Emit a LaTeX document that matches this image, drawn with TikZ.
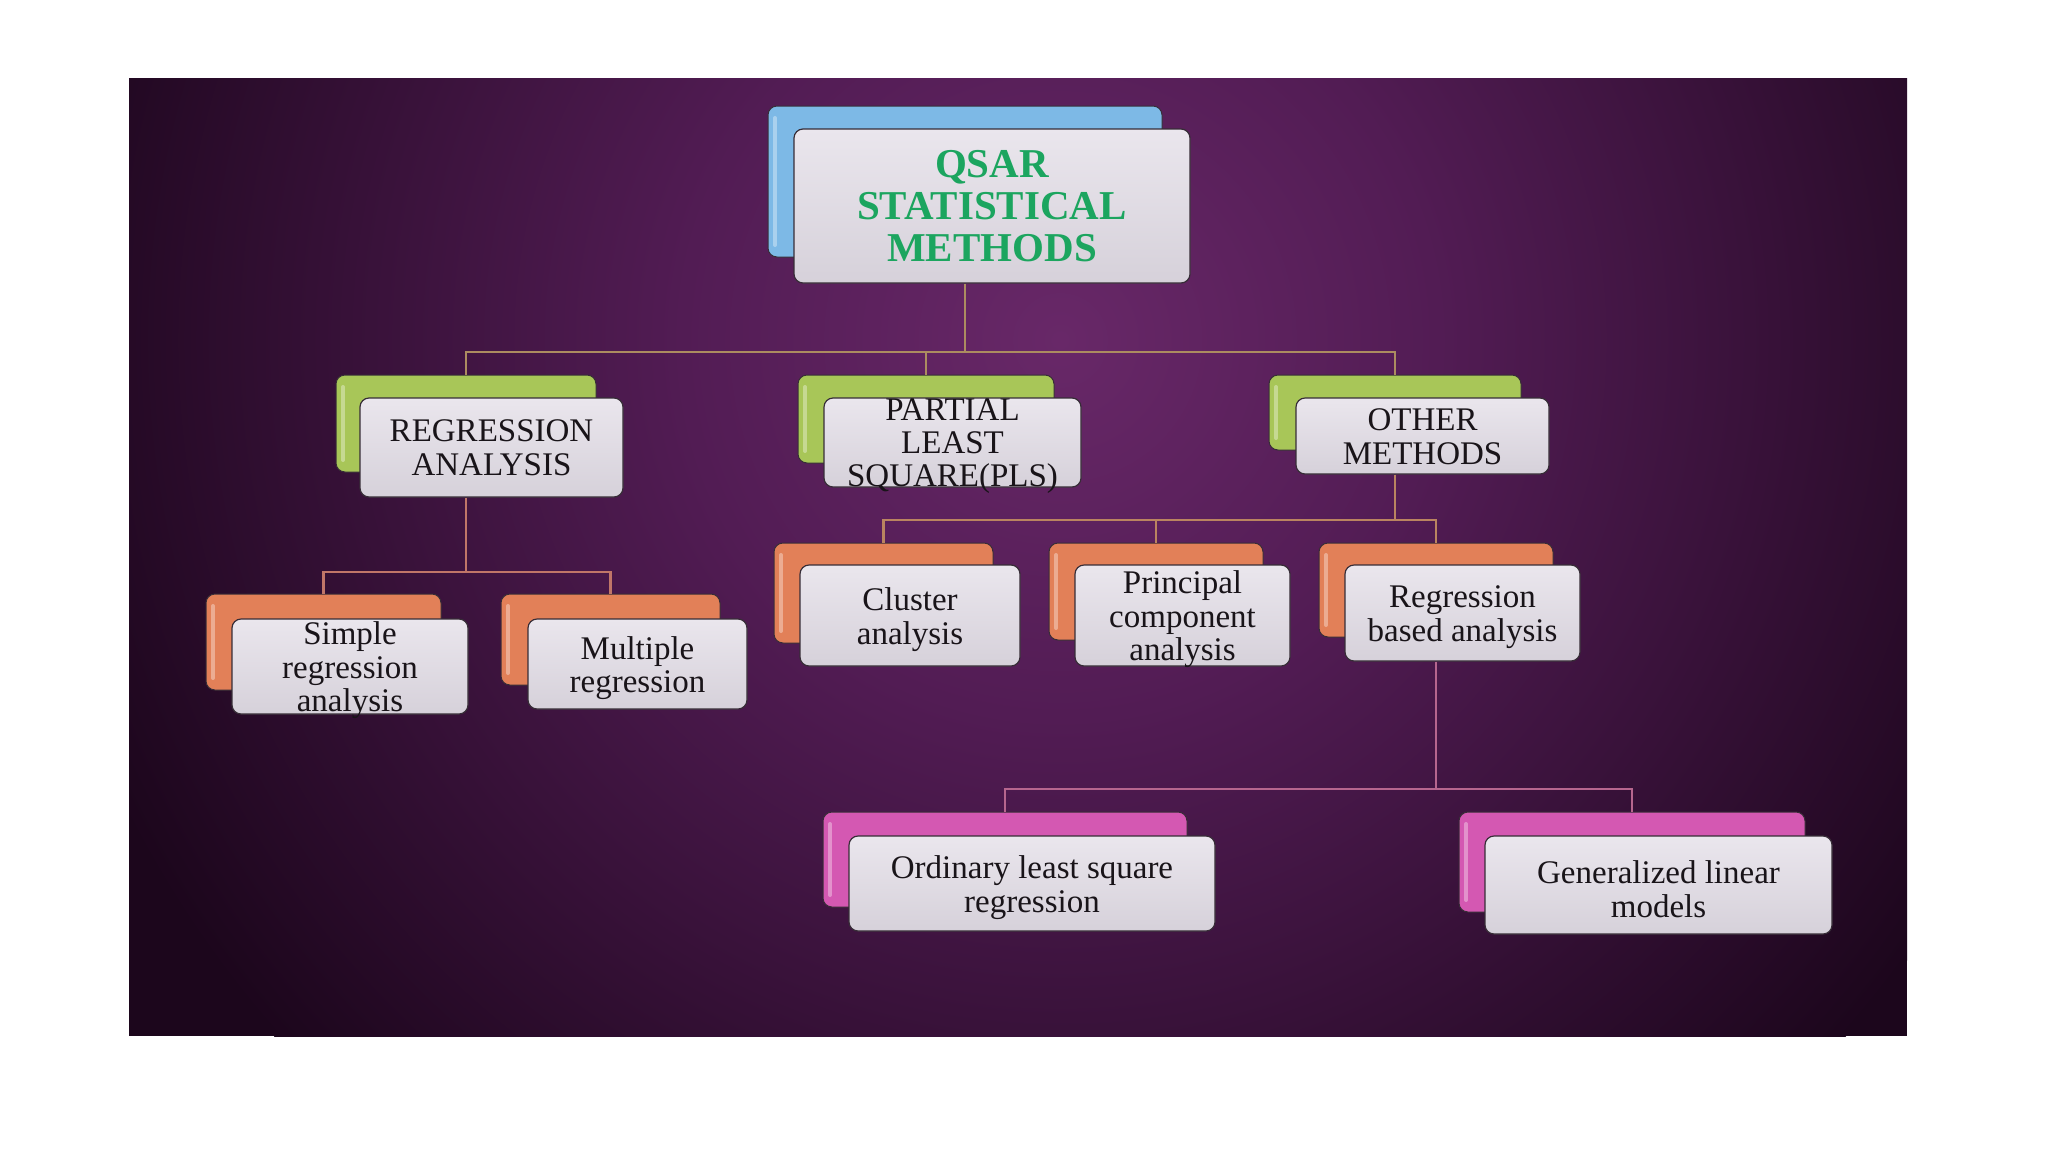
\documentclass[tikz,border=0pt]{standalone}
\usepackage{fontspec}
\setmainfont{Liberation Serif}
\definecolor{bgin}{RGB}{104,40,104}
\definecolor{bgmid}{RGB}{82,28,84}
\definecolor{bgout}{RGB}{28,6,28}
\definecolor{cblue}{RGB}{125,185,230}
\definecolor{cgreen}{RGB}{168,198,88}
\definecolor{corange}{RGB}{226,128,88}
\definecolor{cpink}{RGB}{212,88,178}
\definecolor{ftop}{RGB}{234,230,237}
\definecolor{fbot}{RGB}{214,209,218}
\definecolor{edge}{RGB}{55,45,55}
\definecolor{txt}{RGB}{25,20,25}
\definecolor{ttlgreen}{RGB}{28,165,95}
\definecolor{ctop}{RGB}{172,140,96}
\definecolor{cmid}{RGB}{192,118,104}
\definecolor{coth}{RGB}{186,132,96}
\definecolor{cbot}{RGB}{182,102,142}
\pgfdeclareradialshading{bgshade}{\pgfpoint{0bp}{0bp}}{color(0bp)=(bgin); color(9bp)=(bgmid); color(25bp)=(bgout); color(50bp)=(bgout)}
\tikzset{
  backbox/.style={draw=edge, line width=1, rounded corners=9, inner sep=0,
    path picture={\draw[white, opacity=0.35, line width=4, line cap=round]
      ([xshift=7,yshift=-12]path picture bounding box.north west) --
      ([xshift=7,yshift=12]path picture bounding box.south west);}},
  frontbox/.style={draw=edge, line width=1.2, rounded corners=9, inner sep=0,
    top color=ftop, bottom color=fbot},
  lbl/.style={align=center, inner sep=0, text=txt, yshift=-4, font=\fontsize{33}{33.5}\selectfont},
  conn/.style={line width=2.5},
}
\begin{document}
\begin{tikzpicture}[x=1pt, y=-1pt]
\useasboundingbox (0,0) rectangle (2048,1152);
\fill[white] (0,0) rectangle (2048,1152);
% background panel
\fill[bgout] (129,78) rectangle (1907,1036);
\begin{scope}
  \clip (129,78) rectangle (1907,1036);
  \shade[shading=bgshade] (1060,340) circle (1050);
\end{scope}

% ---- title
\node[backbox, fill=cblue, minimum width=394, minimum height=151] (titleB) at (965,181.5) {};
\node[frontbox, minimum width=396, minimum height=154] (titleF) at (992,206) {};
\node[align=center, inner sep=0, text=ttlgreen, font=\fontsize{41}{42}\selectfont\bfseries] (titleT) at (titleF) {QSAR\\STATISTICAL\\METHODS};

% ---- level 2
\node[backbox, fill=cgreen, minimum width=260, minimum height=97] (regB) at (466,423.5) {};
\node[frontbox, minimum width=263, minimum height=99] (regF) at (491.5,447.5) {};
\node[lbl, yshift=4, font=\fontsize{33}{34}\selectfont] (regT) at (regF) {REGRESSION\\ANALYSIS};

\node[backbox, fill=cgreen, minimum width=256, minimum height=88] (plsB) at (926,419) {};
\node[frontbox, minimum width=257, minimum height=89] (plsF) at (952.5,442.5) {};
\node[lbl, font=\fontsize{33}{33}\selectfont] (plsT) at (plsF) {PARTIAL\\LEAST\\SQUARE(PLS)};

\node[backbox, fill=cgreen, minimum width=252, minimum height=75] (othB) at (1395,412.5) {};
\node[frontbox, minimum width=253, minimum height=76] (othF) at (1422.5,436) {};
\node[lbl, yshift=3, font=\fontsize{33}{34}\selectfont] (othT) at (othF) {OTHER\\METHODS};

% ---- level 3 (regression)
\node[backbox, fill=corange, minimum width=235, minimum height=96] (simB) at (323.5,642) {};
\node[frontbox, minimum width=236, minimum height=95] (simF) at (350,666.5) {};
\node[lbl] (simT) at (simF) {Simple\\regression\\analysis};

\node[backbox, fill=corange, minimum width=219, minimum height=91] (mulB) at (610.5,639.5) {};
\node[frontbox, minimum width=219, minimum height=90] (mulF) at (637.5,664) {};
\node[lbl] (mulT) at (mulF) {Multiple\\regression};

% ---- level 3 (other methods)
\node[backbox, fill=corange, minimum width=219, minimum height=100] (cluB) at (883.5,593) {};
\node[frontbox, minimum width=220, minimum height=101] (cluF) at (910,615.5) {};
\node[lbl] (cluT) at (cluF) {Cluster\\analysis};

\node[backbox, fill=corange, minimum width=214, minimum height=97] (pcaB) at (1156,591.5) {};
\node[frontbox, minimum width=215, minimum height=101] (pcaF) at (1182.5,615.5) {};
\node[lbl] (pcaT) at (pcaF) {Principal\\component\\analysis};

\node[backbox, fill=corange, minimum width=234, minimum height=94] (rbaB) at (1436,590) {};
\node[frontbox, minimum width=235, minimum height=96] (rbaF) at (1462.5,613) {};
\node[lbl] (rbaT) at (rbaF) {Regression\\based analysis};

% ---- level 4
\node[backbox, fill=cpink, minimum width=364, minimum height=95] (olsB) at (1005,859.5) {};
\node[frontbox, minimum width=366, minimum height=95] (olsF) at (1032,883.5) {};
\node[lbl] (olsT) at (olsF) {Ordinary least square\\regression};

\node[backbox, fill=cpink, minimum width=346, minimum height=100] (glmB) at (1632,862) {};
\node[frontbox, minimum width=347, minimum height=98] (glmF) at (1658.5,885) {};
\node[lbl] (glmT) at (glmF) {Generalized linear\\models};

% ---- connectors
\coordinate (busT) at (965,352);
\coordinate (busR) at (466,572);
\coordinate (busO) at (1395,520);
\coordinate (busB) at (1436,789);

\draw[conn, ctop] (titleB |- titleF.south) -- (titleB |- busT);
\draw[conn, ctop] (regB.north) -- (regB |- busT) -- (othB |- busT) -- (othB.north);
\draw[conn, ctop] (plsB.north) -- (plsB |- busT);

\draw[conn, cmid] (regB |- regF.south) -- (regB |- busR);
\draw[conn, cmid] (simB.north) -- (simB |- busR) -- (mulB |- busR) -- (mulB.north);

\draw[conn, coth] (othB |- othF.south) -- (othB |- busO);
\draw[conn, coth] (cluB.north) -- (cluB |- busO) -- (rbaB |- busO) -- (rbaB.north);
\draw[conn, coth] (pcaB.north) -- (pcaB |- busO);

\draw[conn, cbot] (rbaB |- rbaF.south) -- (rbaB |- busB);
\draw[conn, cbot] (olsB.north) -- (olsB |- busB) -- (glmB |- busB) -- (glmB.north);
\end{tikzpicture}
\end{document}
